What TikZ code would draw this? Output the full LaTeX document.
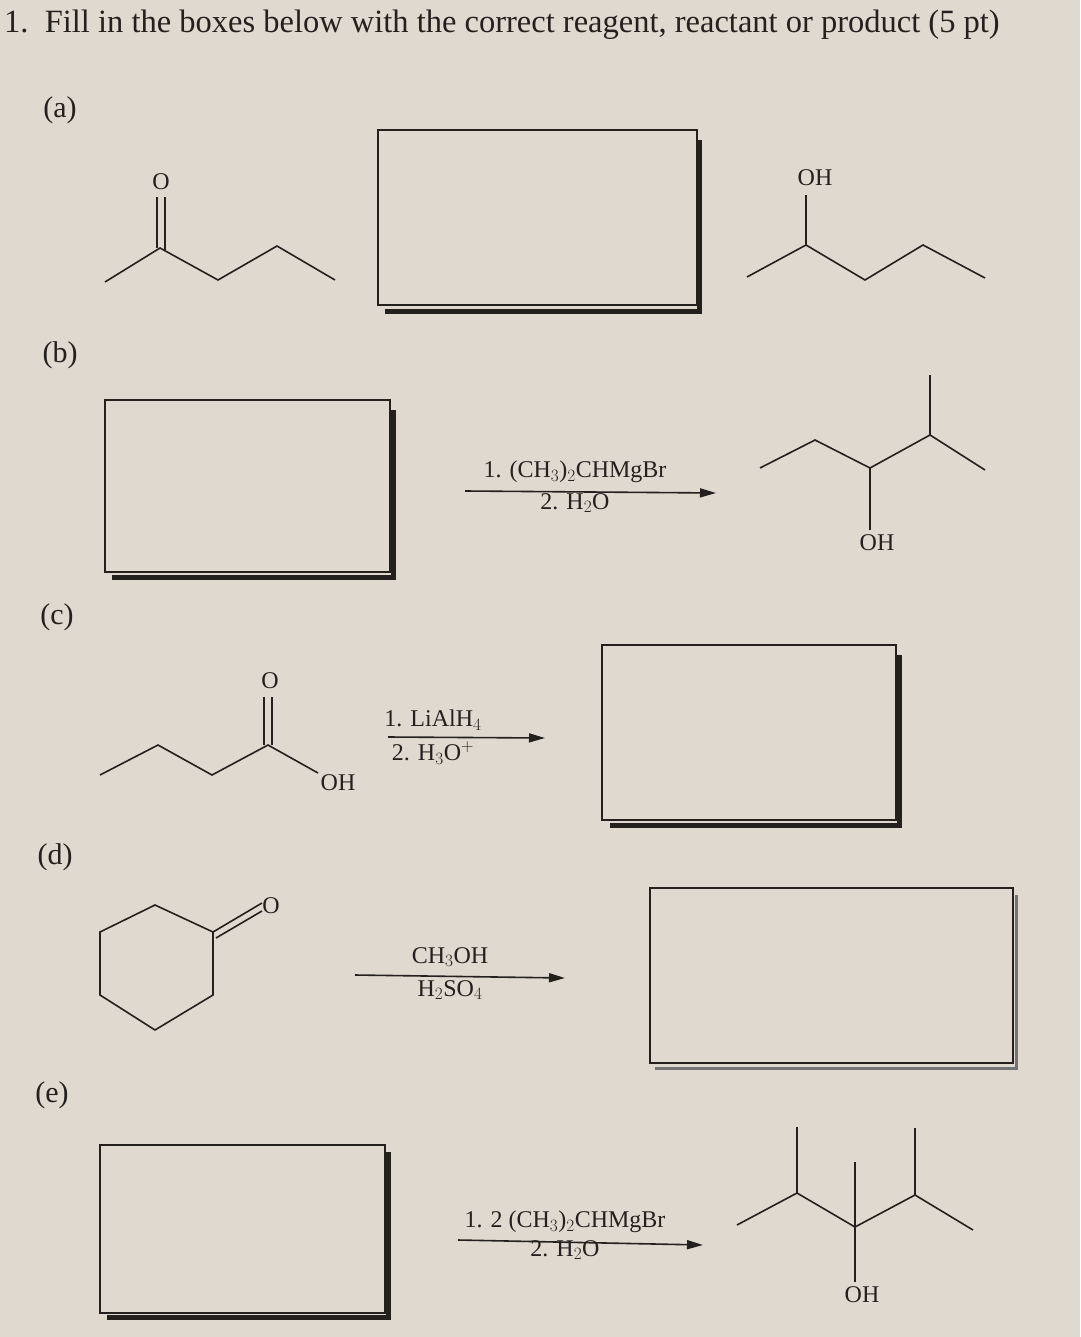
\documentclass[tikz,border=0pt]{standalone}
\usepackage{fontspec}
\setmainfont{Liberation Serif}
\usetikzlibrary{arrows.meta}
\definecolor{paper}{RGB}{224,217,208}
\definecolor{ink}{RGB}{35,32,30}
\begin{document}
\begin{tikzpicture}[x=1pt,y=-1pt,
  bond/.style={line width=1.6pt,ink},
  ansbox/.style={draw=ink,line width=1.5pt},
  shadow/.style={line width=5pt,ink},
  lbl/.style={font=\fontsize{30}{34}\selectfont,inner sep=0pt,text=ink},
  atom/.style={font=\fontsize{24}{28}\selectfont,inner sep=1pt,text=ink},
  reag/.style={font=\fontsize{24}{28}\selectfont,inner sep=0pt,text=ink},
  rxn/.style={line width=1.6pt,ink,-{Triangle[length=16pt,width=9pt]}}]
\fill[paper] (0,0) rectangle (1080,1337);
\useasboundingbox (0,0) rectangle (1080,1337);
\node[lbl,anchor=west,font=\fontsize{32.5}{36}\selectfont] (title) at (4,25) {1.\ \ Fill in the boxes below with the correct reagent, reactant or product (5 pt)};
\node[lbl] (la) at (60,110) {(a)};
\node[lbl] (lb) at (60,355) {(b)};
\node[lbl] (lc) at (57,617) {(c)};
\node[lbl] (ld) at (55,857) {(d)};
\node[lbl] (le) at (52,1095) {(e)};
% (a)
\draw[bond] (105,282)--(160,248)--(218,280)--(277,246)--(335,280);
\draw[bond] (157,248)--(157,197) (165,250)--(165,197);
\node[atom] (oa) at (161,182) {O};
\draw[ansbox] (378,130) rectangle (697,305);
\draw[shadow] (699,140)--(699,311)--(385,311);
\draw[bond] (747,277)--(806,245)--(865,280)--(923,245)--(985,278);
\draw[bond] (806,245)--(806,195);
\node[atom] (oha) at (815,178) {OH};
% (b)
\draw[ansbox] (105,400) rectangle (390,572);
\draw[shadow] (393,410)--(393,577)--(112,577);
\draw[rxn] (465,491)--(716,493);
\node[reag] (rb1) at (575,472) {1. (CH$_3$)$_2$CHMgBr};
\node[reag] (rb2) at (575,503) {2. H$_2$O};
\draw[bond] (760,468)--(815,440)--(870,468)--(930,435)--(985,470);
\draw[bond] (930,435)--(930,375) (870,468)--(870,530);
\node[atom] (ohb) at (877,543) {OH};
% (c)
\draw[bond] (100,775)--(158,745)--(212,775)--(268,745)--(318,773);
\draw[bond] (264,745)--(264,697) (272,745)--(272,697);
\node[atom] (oc) at (270,681) {O};
\node[atom] (ohc) at (338,783) {OH};
\draw[rxn] (388,737)--(545,738);
\node[reag] (rc1) at (433,720) {1. LiAlH$_4$};
\node[reag] (rc2) at (433,753) {2. H$_3$O$^+$};
\draw[ansbox] (602,645) rectangle (896,820);
\draw[shadow] (899,655)--(899,825)--(610,825);
% (d)
\draw[bond] (155,905)--(213,932)--(213,995)--(155,1030)--(100,995)--(100,932)--cycle;
\draw[bond] (213,932)--(262,903) (216,938)--(262,911);
\node[atom] (od) at (271,906) {O};
\draw[rxn] (355,975)--(565,978);
\node[reag] (rd1) at (450,957) {CH$_3$OH};
\node[reag] (rd2) at (450,990) {H$_2$SO$_4$};
\draw[ansbox] (650,888) rectangle (1013,1063);
\draw[line width=3pt,black!55] (1016,895)--(1016,1068)--(655,1068);
% (e)
\draw[ansbox] (100,1145) rectangle (385,1313);
\draw[shadow] (388,1152)--(388,1317)--(107,1317);
\draw[rxn] (458,1240)--(703,1245);
\node[reag] (re1) at (565,1222) {1. 2 (CH$_3$)$_2$CHMgBr};
\node[reag] (re2) at (565,1250) {2. H$_2$O};
\draw[bond] (737,1225)--(797,1193)--(855,1227)--(915,1195)--(973,1230);
\draw[bond] (797,1193)--(797,1127) (915,1195)--(915,1128) (855,1162)--(855,1282);
\node[atom] (ohe) at (862,1295) {OH};
\end{tikzpicture}
\end{document}
